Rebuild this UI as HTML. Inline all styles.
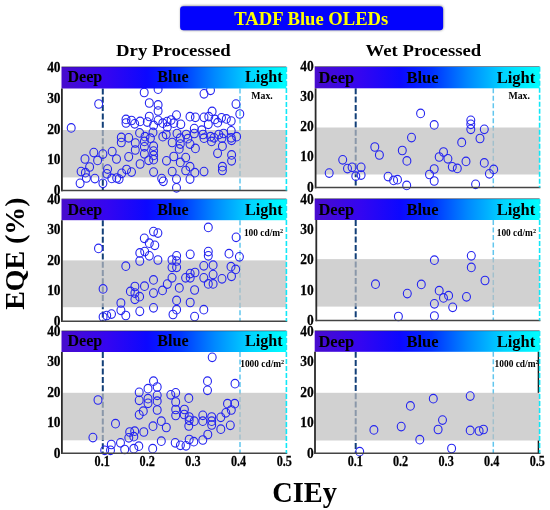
<!DOCTYPE html>
<html><head><meta charset="utf-8"><title>TADF Blue OLEDs</title>
<style>
html,body{margin:0;padding:0;background:#fff;}
body{width:550px;height:510px;overflow:hidden;font-family:"Liberation Serif",serif;}
svg{display:block}
text{font-family:"Liberation Serif",serif;font-weight:bold;fill:#000}
.hd{font-size:16px}
.tk{font-size:14.2px;stroke:#000;stroke-width:0.25px}
.sm{font-size:9.4px}
.c{fill:none;stroke:#2424f0;stroke-width:1.1}
</style></head><body>
<svg width="550" height="510" viewBox="0 0 550 510">
<defs>
<linearGradient id="g" x1="0" x2="1" y1="0" y2="0">
<stop offset="0" stop-color="#480ccd"/>
<stop offset="0.2" stop-color="#3505f0"/>
<stop offset="0.38" stop-color="#0c08ff"/>
<stop offset="0.52" stop-color="#0030ff"/>
<stop offset="0.68" stop-color="#0088ff"/>
<stop offset="0.84" stop-color="#00d4ff"/>
<stop offset="1" stop-color="#00ffff"/>
</linearGradient>
<filter id="sh" x="-5%" y="-30%" width="110%" height="160%"><feGaussianBlur stdDeviation="1"/></filter>
</defs>
<rect width="550" height="510" fill="#fff"/>
<rect x="180.5" y="5.6" width="263" height="25" rx="4" fill="#555" opacity="0.6" filter="url(#sh)"/>
<rect x="180.1" y="6.2" width="263" height="24" rx="3.3" fill="#0303fd"/>
<text x="311.3" y="24.8" text-anchor="middle" style="font-size:18.6px;fill:#ffff00">TADF Blue OLEDs</text>
<text transform="translate(173.4,55.6) scale(1,0.94)" text-anchor="middle" style="font-size:18.75px">Dry Processed</text>
<text transform="translate(423.4,55.6) scale(1,0.94)" text-anchor="middle" style="font-size:18.75px">Wet Processed</text>
<text transform="translate(23.6,253.7) rotate(-90)" text-anchor="middle" style="font-size:27.9px">EQE (%)</text>
<text x="304.5" y="501.8" text-anchor="middle" style="font-size:28.4px">CIEy</text>

<g>
<line x1="102.8" x2="102.8" y1="88.5" y2="190.6" stroke="#123f78" stroke-width="2" stroke-dasharray="6 2.3"/>
<line x1="240.0" x2="240.0" y1="88.5" y2="190.6" stroke="#62c6ee" stroke-width="1.5" stroke-dasharray="5 2.5"/>
<rect x="62.5" y="130" width="223.9" height="47.4" fill="#bdbdbd" fill-opacity="0.7"/>
<ellipse class="c" cx="71.2" cy="127.9" rx="3.95" ry="4.3"/>
<ellipse class="c" cx="98.7" cy="104" rx="3.95" ry="4.3"/>
<ellipse class="c" cx="80.1" cy="183.3" rx="3.95" ry="4.3"/>
<ellipse class="c" cx="81.1" cy="171.6" rx="3.95" ry="4.3"/>
<ellipse class="c" cx="85" cy="159" rx="3.95" ry="4.3"/>
<ellipse class="c" cx="85.4" cy="172.7" rx="3.95" ry="4.3"/>
<ellipse class="c" cx="86.4" cy="178" rx="3.95" ry="4.3"/>
<ellipse class="c" cx="89.6" cy="167" rx="3.95" ry="4.3"/>
<ellipse class="c" cx="93.8" cy="152.6" rx="3.95" ry="4.3"/>
<ellipse class="c" cx="94.9" cy="178.6" rx="3.95" ry="4.3"/>
<ellipse class="c" cx="97.6" cy="160.4" rx="3.95" ry="4.3"/>
<ellipse class="c" cx="102.9" cy="154.1" rx="3.95" ry="4.3"/>
<ellipse class="c" cx="102.9" cy="183.3" rx="3.95" ry="4.3"/>
<ellipse class="c" cx="107.6" cy="169.1" rx="3.95" ry="4.3"/>
<ellipse class="c" cx="106.9" cy="173.8" rx="3.95" ry="4.3"/>
<ellipse class="c" cx="112.2" cy="151.6" rx="3.95" ry="4.3"/>
<ellipse class="c" cx="111.8" cy="178.4" rx="3.95" ry="4.3"/>
<ellipse class="c" cx="116.5" cy="159" rx="3.95" ry="4.3"/>
<ellipse class="c" cx="116.7" cy="178" rx="3.95" ry="4.3"/>
<ellipse class="c" cx="121.3" cy="137.4" rx="3.95" ry="4.3"/>
<ellipse class="c" cx="121.3" cy="142.5" rx="3.95" ry="4.3"/>
<ellipse class="c" cx="121.7" cy="173.3" rx="3.95" ry="4.3"/>
<ellipse class="c" cx="126" cy="119.4" rx="3.95" ry="4.3"/>
<ellipse class="c" cx="126" cy="123" rx="3.95" ry="4.3"/>
<ellipse class="c" cx="126.6" cy="169.5" rx="3.95" ry="4.3"/>
<ellipse class="c" cx="128.7" cy="137.8" rx="3.95" ry="4.3"/>
<ellipse class="c" cx="128.7" cy="156.8" rx="3.95" ry="4.3"/>
<ellipse class="c" cx="144.2" cy="92.5" rx="3.95" ry="4.3"/>
<ellipse class="c" cx="158.1" cy="89.2" rx="3.95" ry="4.3"/>
<ellipse class="c" cx="149.3" cy="103" rx="3.95" ry="4.3"/>
<ellipse class="c" cx="158.1" cy="104.9" rx="3.95" ry="4.3"/>
<ellipse class="c" cx="158.1" cy="111" rx="3.95" ry="4.3"/>
<ellipse class="c" cx="149.3" cy="116.5" rx="3.95" ry="4.3"/>
<ellipse class="c" cx="131.5" cy="120.5" rx="3.95" ry="4.3"/>
<ellipse class="c" cx="134.7" cy="123.8" rx="3.95" ry="4.3"/>
<ellipse class="c" cx="140.1" cy="121.4" rx="3.95" ry="4.3"/>
<ellipse class="c" cx="147.3" cy="122.1" rx="3.95" ry="4.3"/>
<ellipse class="c" cx="158.1" cy="120.3" rx="3.95" ry="4.3"/>
<ellipse class="c" cx="162.8" cy="123.2" rx="3.95" ry="4.3"/>
<ellipse class="c" cx="153.6" cy="125.4" rx="3.95" ry="4.3"/>
<ellipse class="c" cx="139.6" cy="132.9" rx="3.95" ry="4.3"/>
<ellipse class="c" cx="145" cy="136.7" rx="3.95" ry="4.3"/>
<ellipse class="c" cx="153" cy="132.4" rx="3.95" ry="4.3"/>
<ellipse class="c" cx="162.8" cy="136.7" rx="3.95" ry="4.3"/>
<ellipse class="c" cx="167.1" cy="121.6" rx="3.95" ry="4.3"/>
<ellipse class="c" cx="204" cy="93.8" rx="3.95" ry="4.3"/>
<ellipse class="c" cx="210.5" cy="90.3" rx="3.95" ry="4.3"/>
<ellipse class="c" cx="176.5" cy="115.1" rx="3.95" ry="4.3"/>
<ellipse class="c" cx="190" cy="116.7" rx="3.95" ry="4.3"/>
<ellipse class="c" cx="195.4" cy="117.3" rx="3.95" ry="4.3"/>
<ellipse class="c" cx="204" cy="117.3" rx="3.95" ry="4.3"/>
<ellipse class="c" cx="208.8" cy="116.7" rx="3.95" ry="4.3"/>
<ellipse class="c" cx="212.1" cy="111.4" rx="3.95" ry="4.3"/>
<ellipse class="c" cx="180.8" cy="124.3" rx="3.95" ry="4.3"/>
<ellipse class="c" cx="171.1" cy="120" rx="3.95" ry="4.3"/>
<ellipse class="c" cx="167.3" cy="127" rx="3.95" ry="4.3"/>
<ellipse class="c" cx="173.8" cy="123.2" rx="3.95" ry="4.3"/>
<ellipse class="c" cx="194.3" cy="128.6" rx="3.95" ry="4.3"/>
<ellipse class="c" cx="201.8" cy="130.2" rx="3.95" ry="4.3"/>
<ellipse class="c" cx="208.3" cy="124.3" rx="3.95" ry="4.3"/>
<ellipse class="c" cx="166.2" cy="134.5" rx="3.95" ry="4.3"/>
<ellipse class="c" cx="177" cy="133.5" rx="3.95" ry="4.3"/>
<ellipse class="c" cx="186.2" cy="134.5" rx="3.95" ry="4.3"/>
<ellipse class="c" cx="194.3" cy="133.5" rx="3.95" ry="4.3"/>
<ellipse class="c" cx="203" cy="134.5" rx="3.95" ry="4.3"/>
<ellipse class="c" cx="210.5" cy="136.7" rx="3.95" ry="4.3"/>
<ellipse class="c" cx="236" cy="104.1" rx="3.95" ry="4.3"/>
<ellipse class="c" cx="239.8" cy="114" rx="3.95" ry="4.3"/>
<ellipse class="c" cx="215" cy="119.4" rx="3.95" ry="4.3"/>
<ellipse class="c" cx="221.5" cy="117.8" rx="3.95" ry="4.3"/>
<ellipse class="c" cx="226.3" cy="118.9" rx="3.95" ry="4.3"/>
<ellipse class="c" cx="231.2" cy="121.1" rx="3.95" ry="4.3"/>
<ellipse class="c" cx="217.7" cy="122.7" rx="3.95" ry="4.3"/>
<ellipse class="c" cx="231.2" cy="130.8" rx="3.95" ry="4.3"/>
<ellipse class="c" cx="218.8" cy="134.5" rx="3.95" ry="4.3"/>
<ellipse class="c" cx="223.6" cy="133.5" rx="3.95" ry="4.3"/>
<ellipse class="c" cx="231.2" cy="137.8" rx="3.95" ry="4.3"/>
<ellipse class="c" cx="236.6" cy="136.7" rx="3.95" ry="4.3"/>
<ellipse class="c" cx="214" cy="137.8" rx="3.95" ry="4.3"/>
<ellipse class="c" cx="135.3" cy="143" rx="3.95" ry="4.3"/>
<ellipse class="c" cx="135.3" cy="150" rx="3.95" ry="4.3"/>
<ellipse class="c" cx="140.1" cy="164" rx="3.95" ry="4.3"/>
<ellipse class="c" cx="144.4" cy="146.8" rx="3.95" ry="4.3"/>
<ellipse class="c" cx="144.4" cy="153.8" rx="3.95" ry="4.3"/>
<ellipse class="c" cx="148.7" cy="160.3" rx="3.95" ry="4.3"/>
<ellipse class="c" cx="153.6" cy="146.2" rx="3.95" ry="4.3"/>
<ellipse class="c" cx="153.6" cy="151.1" rx="3.95" ry="4.3"/>
<ellipse class="c" cx="153.6" cy="155.4" rx="3.95" ry="4.3"/>
<ellipse class="c" cx="153.6" cy="159.7" rx="3.95" ry="4.3"/>
<ellipse class="c" cx="131.5" cy="172.1" rx="3.95" ry="4.3"/>
<ellipse class="c" cx="119.1" cy="179.1" rx="3.95" ry="4.3"/>
<ellipse class="c" cx="153.6" cy="172.1" rx="3.95" ry="4.3"/>
<ellipse class="c" cx="161.7" cy="178.6" rx="3.95" ry="4.3"/>
<ellipse class="c" cx="163.3" cy="181.3" rx="3.95" ry="4.3"/>
<ellipse class="c" cx="166.5" cy="160.8" rx="3.95" ry="4.3"/>
<ellipse class="c" cx="150.4" cy="138.2" rx="3.95" ry="4.3"/>
<ellipse class="c" cx="144.4" cy="141.4" rx="3.95" ry="4.3"/>
<ellipse class="c" cx="173.8" cy="156.5" rx="3.95" ry="4.3"/>
<ellipse class="c" cx="172.2" cy="142.5" rx="3.95" ry="4.3"/>
<ellipse class="c" cx="179.2" cy="148.9" rx="3.95" ry="4.3"/>
<ellipse class="c" cx="180.3" cy="144.1" rx="3.95" ry="4.3"/>
<ellipse class="c" cx="190" cy="144.1" rx="3.95" ry="4.3"/>
<ellipse class="c" cx="195.4" cy="148.4" rx="3.95" ry="4.3"/>
<ellipse class="c" cx="185.7" cy="157.6" rx="3.95" ry="4.3"/>
<ellipse class="c" cx="180.3" cy="162.4" rx="3.95" ry="4.3"/>
<ellipse class="c" cx="190" cy="166.7" rx="3.95" ry="4.3"/>
<ellipse class="c" cx="185.7" cy="170.5" rx="3.95" ry="4.3"/>
<ellipse class="c" cx="194.8" cy="172.7" rx="3.95" ry="4.3"/>
<ellipse class="c" cx="204" cy="171.6" rx="3.95" ry="4.3"/>
<ellipse class="c" cx="172.2" cy="171.6" rx="3.95" ry="4.3"/>
<ellipse class="c" cx="176.5" cy="179.1" rx="3.95" ry="4.3"/>
<ellipse class="c" cx="190" cy="179.1" rx="3.95" ry="4.3"/>
<ellipse class="c" cx="176.5" cy="187.8" rx="3.95" ry="4.3"/>
<ellipse class="c" cx="204" cy="138.2" rx="3.95" ry="4.3"/>
<ellipse class="c" cx="211.5" cy="141.4" rx="3.95" ry="4.3"/>
<ellipse class="c" cx="187.8" cy="138.7" rx="3.95" ry="4.3"/>
<ellipse class="c" cx="180.3" cy="138.2" rx="3.95" ry="4.3"/>
<ellipse class="c" cx="222.4" cy="146.2" rx="3.95" ry="4.3"/>
<ellipse class="c" cx="217.6" cy="153.3" rx="3.95" ry="4.3"/>
<ellipse class="c" cx="231.6" cy="140.3" rx="3.95" ry="4.3"/>
<ellipse class="c" cx="231.6" cy="154.9" rx="3.95" ry="4.3"/>
<ellipse class="c" cx="231.6" cy="160.8" rx="3.95" ry="4.3"/>
<ellipse class="c" cx="222.4" cy="166.7" rx="3.95" ry="4.3"/>
<ellipse class="c" cx="222.4" cy="170.5" rx="3.95" ry="4.3"/>
<ellipse class="c" cx="221.9" cy="138.2" rx="3.95" ry="4.3"/>
<rect x="61.5" y="67" width="224.9" height="21.5" fill="url(#g)"/>
<line x1="61.5" x2="286.4" y1="66.8" y2="66.8" stroke="#223" stroke-width="0.8" opacity="0.7"/>
<line x1="61.9" x2="61.9" y1="88.5" y2="191.29999999999998" stroke="#2a2a2a" stroke-width="1.8"/>
<line x1="61.199999999999996" x2="287.2" y1="190.6" y2="190.6" stroke="#444" stroke-width="1.5"/>
<line x1="286.4" x2="286.4" y1="67" y2="190.6" stroke="#10e8f8" stroke-width="1.6" stroke-dasharray="5 2"/>
<text class="hd" style="font-size:16.1px" x="67.4" y="82.4">Deep</text>
<text class="hd" style="font-size:16.1px" x="157.3" y="82.4">Blue</text>
<text class="hd" style="font-size:16.1px" x="245.0" y="82.4">Light</text>
<text class="sm" style="font-size:9.8px" x="262" y="98.9" text-anchor="middle">Max.</text>
<text class="tk" transform="translate(60.6,71.7) scale(0.95,1)" text-anchor="end">40</text>
<text class="tk" transform="translate(60.6,102.6) scale(0.95,1)" text-anchor="end">30</text>
<text class="tk" transform="translate(60.6,133.5) scale(0.95,1)" text-anchor="end">20</text>
<text class="tk" transform="translate(60.6,164.4) scale(0.95,1)" text-anchor="end">10</text>
<text class="tk" transform="translate(60.6,195.3) scale(0.95,1)" text-anchor="end">0</text>
</g>
<g>
<line x1="102.8" x2="102.8" y1="220.2" y2="321.2" stroke="#123f78" stroke-width="2" stroke-dasharray="6 2.3"/>
<line x1="240.0" x2="240.0" y1="220.2" y2="321.2" stroke="#62c6ee" stroke-width="1.5" stroke-dasharray="5 2.5"/>
<rect x="62.5" y="260.4" width="223.9" height="46.8" fill="#bdbdbd" fill-opacity="0.7"/>
<ellipse class="c" cx="98.5" cy="248.4" rx="3.95" ry="4.3"/>
<ellipse class="c" cx="103.1" cy="288.9" rx="3.95" ry="4.3"/>
<ellipse class="c" cx="103.1" cy="317" rx="3.95" ry="4.3"/>
<ellipse class="c" cx="106.7" cy="315.5" rx="3.95" ry="4.3"/>
<ellipse class="c" cx="111.5" cy="314.1" rx="3.95" ry="4.3"/>
<ellipse class="c" cx="120.9" cy="303" rx="3.95" ry="4.3"/>
<ellipse class="c" cx="120.9" cy="310.3" rx="3.95" ry="4.3"/>
<ellipse class="c" cx="125.8" cy="315.5" rx="3.95" ry="4.3"/>
<ellipse class="c" cx="125.8" cy="266.2" rx="3.95" ry="4.3"/>
<ellipse class="c" cx="130.4" cy="291.4" rx="3.95" ry="4.3"/>
<ellipse class="c" cx="134.9" cy="286.5" rx="3.95" ry="4.3"/>
<ellipse class="c" cx="134.9" cy="293.1" rx="3.95" ry="4.3"/>
<ellipse class="c" cx="134.9" cy="299.3" rx="3.95" ry="4.3"/>
<ellipse class="c" cx="139.6" cy="296.7" rx="3.95" ry="4.3"/>
<ellipse class="c" cx="139.8" cy="311.3" rx="3.95" ry="4.3"/>
<ellipse class="c" cx="139.8" cy="261" rx="3.95" ry="4.3"/>
<ellipse class="c" cx="139.8" cy="252.9" rx="3.95" ry="4.3"/>
<ellipse class="c" cx="144.3" cy="238.3" rx="3.95" ry="4.3"/>
<ellipse class="c" cx="144.5" cy="286.2" rx="3.95" ry="4.3"/>
<ellipse class="c" cx="144.7" cy="251.6" rx="3.95" ry="4.3"/>
<ellipse class="c" cx="149.3" cy="255.8" rx="3.95" ry="4.3"/>
<ellipse class="c" cx="149.3" cy="243.2" rx="3.95" ry="4.3"/>
<ellipse class="c" cx="153.5" cy="231.6" rx="3.95" ry="4.3"/>
<ellipse class="c" cx="157.9" cy="233.1" rx="3.95" ry="4.3"/>
<ellipse class="c" cx="154.8" cy="245.3" rx="3.95" ry="4.3"/>
<ellipse class="c" cx="157.9" cy="260" rx="3.95" ry="4.3"/>
<ellipse class="c" cx="153.5" cy="279.9" rx="3.95" ry="4.3"/>
<ellipse class="c" cx="153.5" cy="293.1" rx="3.95" ry="4.3"/>
<ellipse class="c" cx="153.5" cy="307.8" rx="3.95" ry="4.3"/>
<ellipse class="c" cx="162.5" cy="290.4" rx="3.95" ry="4.3"/>
<ellipse class="c" cx="167.3" cy="284.1" rx="3.95" ry="4.3"/>
<ellipse class="c" cx="172" cy="277.8" rx="3.95" ry="4.3"/>
<ellipse class="c" cx="172" cy="267.3" rx="3.95" ry="4.3"/>
<ellipse class="c" cx="172" cy="260" rx="3.95" ry="4.3"/>
<ellipse class="c" cx="176.6" cy="255.8" rx="3.95" ry="4.3"/>
<ellipse class="c" cx="176.6" cy="261" rx="3.95" ry="4.3"/>
<ellipse class="c" cx="176.6" cy="267.3" rx="3.95" ry="4.3"/>
<ellipse class="c" cx="179.3" cy="287.9" rx="3.95" ry="4.3"/>
<ellipse class="c" cx="176.6" cy="300.4" rx="3.95" ry="4.3"/>
<ellipse class="c" cx="176.6" cy="309.7" rx="3.95" ry="4.3"/>
<ellipse class="c" cx="173" cy="314.5" rx="3.95" ry="4.3"/>
<ellipse class="c" cx="185.6" cy="277.8" rx="3.95" ry="4.3"/>
<ellipse class="c" cx="190.2" cy="254.3" rx="3.95" ry="4.3"/>
<ellipse class="c" cx="190.2" cy="273.6" rx="3.95" ry="4.3"/>
<ellipse class="c" cx="190.2" cy="277.8" rx="3.95" ry="4.3"/>
<ellipse class="c" cx="195" cy="272.5" rx="3.95" ry="4.3"/>
<ellipse class="c" cx="194.6" cy="290" rx="3.95" ry="4.3"/>
<ellipse class="c" cx="190.2" cy="302.5" rx="3.95" ry="4.3"/>
<ellipse class="c" cx="194.6" cy="316.6" rx="3.95" ry="4.3"/>
<ellipse class="c" cx="203.8" cy="309.7" rx="3.95" ry="4.3"/>
<ellipse class="c" cx="203.8" cy="265.8" rx="3.95" ry="4.3"/>
<ellipse class="c" cx="203.8" cy="277.8" rx="3.95" ry="4.3"/>
<ellipse class="c" cx="208.3" cy="227.4" rx="3.95" ry="4.3"/>
<ellipse class="c" cx="208.3" cy="251.6" rx="3.95" ry="4.3"/>
<ellipse class="c" cx="208.3" cy="255.8" rx="3.95" ry="4.3"/>
<ellipse class="c" cx="208.3" cy="283.9" rx="3.95" ry="4.3"/>
<ellipse class="c" cx="213.1" cy="265.2" rx="3.95" ry="4.3"/>
<ellipse class="c" cx="213.1" cy="274.6" rx="3.95" ry="4.3"/>
<ellipse class="c" cx="213.1" cy="283.9" rx="3.95" ry="4.3"/>
<ellipse class="c" cx="222" cy="278.8" rx="3.95" ry="4.3"/>
<ellipse class="c" cx="229" cy="253.7" rx="3.95" ry="4.3"/>
<ellipse class="c" cx="231" cy="266.7" rx="3.95" ry="4.3"/>
<ellipse class="c" cx="231.5" cy="276.3" rx="3.95" ry="4.3"/>
<ellipse class="c" cx="235.7" cy="269.4" rx="3.95" ry="4.3"/>
<ellipse class="c" cx="236.1" cy="237.3" rx="3.95" ry="4.3"/>
<ellipse class="c" cx="239.4" cy="256.8" rx="3.95" ry="4.3"/>
<rect x="61.5" y="199.1" width="224.9" height="21.1" fill="url(#g)"/>
<line x1="61.5" x2="286.4" y1="198.9" y2="198.9" stroke="#223" stroke-width="0.8" opacity="0.7"/>
<line x1="61.9" x2="61.9" y1="220.2" y2="321.9" stroke="#2a2a2a" stroke-width="1.8"/>
<line x1="61.199999999999996" x2="287.2" y1="321.2" y2="321.2" stroke="#444" stroke-width="1.5"/>
<line x1="286.4" x2="286.4" y1="199.1" y2="321.2" stroke="#10e8f8" stroke-width="1.6" stroke-dasharray="5 2"/>
<text class="hd" style="font-size:16.1px" x="67.4" y="214.5">Deep</text>
<text class="hd" style="font-size:16.1px" x="157.3" y="214.5">Blue</text>
<text class="hd" style="font-size:16.1px" x="245.0" y="214.5">Light</text>
<text class="sm" x="283.2" y="236.1" text-anchor="end">100 cd/m<tspan dy="-3.4" style="font-size:6.2px">2</tspan></text>
<text class="tk" transform="translate(60.6,203.8) scale(0.95,1)" text-anchor="end">40</text>
<text class="tk" transform="translate(60.6,234.3) scale(0.95,1)" text-anchor="end">30</text>
<text class="tk" transform="translate(60.6,264.8) scale(0.95,1)" text-anchor="end">20</text>
<text class="tk" transform="translate(60.6,295.4) scale(0.95,1)" text-anchor="end">10</text>
<text class="tk" transform="translate(60.6,325.9) scale(0.95,1)" text-anchor="end">0</text>
</g>
<g>
<line x1="102.8" x2="102.8" y1="352" y2="453.2" stroke="#123f78" stroke-width="2" stroke-dasharray="6 2.3"/>
<line x1="240.0" x2="240.0" y1="352" y2="453.2" stroke="#62c6ee" stroke-width="1.5" stroke-dasharray="5 2.5"/>
<rect x="62.5" y="392.8" width="223.9" height="47.5" fill="#bdbdbd" fill-opacity="0.7"/>
<ellipse class="c" cx="212.2" cy="357.3" rx="3.95" ry="4.3"/>
<ellipse class="c" cx="98" cy="400" rx="3.95" ry="4.3"/>
<ellipse class="c" cx="92.9" cy="437.6" rx="3.95" ry="4.3"/>
<ellipse class="c" cx="115.5" cy="423.7" rx="3.95" ry="4.3"/>
<ellipse class="c" cx="139.2" cy="392.3" rx="3.95" ry="4.3"/>
<ellipse class="c" cx="139.2" cy="400.3" rx="3.95" ry="4.3"/>
<ellipse class="c" cx="139.2" cy="414.8" rx="3.95" ry="4.3"/>
<ellipse class="c" cx="143.3" cy="411.2" rx="3.95" ry="4.3"/>
<ellipse class="c" cx="148" cy="388.7" rx="3.95" ry="4.3"/>
<ellipse class="c" cx="148" cy="398.7" rx="3.95" ry="4.3"/>
<ellipse class="c" cx="148" cy="403.3" rx="3.95" ry="4.3"/>
<ellipse class="c" cx="153.5" cy="381.2" rx="3.95" ry="4.3"/>
<ellipse class="c" cx="157.2" cy="387" rx="3.95" ry="4.3"/>
<ellipse class="c" cx="157.2" cy="395.3" rx="3.95" ry="4.3"/>
<ellipse class="c" cx="157.2" cy="401.2" rx="3.95" ry="4.3"/>
<ellipse class="c" cx="157.2" cy="410" rx="3.95" ry="4.3"/>
<ellipse class="c" cx="153" cy="426.2" rx="3.95" ry="4.3"/>
<ellipse class="c" cx="161.3" cy="421.2" rx="3.95" ry="4.3"/>
<ellipse class="c" cx="166.3" cy="427.5" rx="3.95" ry="4.3"/>
<ellipse class="c" cx="143.8" cy="432" rx="3.95" ry="4.3"/>
<ellipse class="c" cx="129.7" cy="432" rx="3.95" ry="4.3"/>
<ellipse class="c" cx="134.7" cy="431.2" rx="3.95" ry="4.3"/>
<ellipse class="c" cx="128.8" cy="437.8" rx="3.95" ry="4.3"/>
<ellipse class="c" cx="133.8" cy="436.7" rx="3.95" ry="4.3"/>
<ellipse class="c" cx="161.3" cy="441.2" rx="3.95" ry="4.3"/>
<ellipse class="c" cx="152.7" cy="448.7" rx="3.95" ry="4.3"/>
<ellipse class="c" cx="138.8" cy="446.2" rx="3.95" ry="4.3"/>
<ellipse class="c" cx="133.8" cy="448.7" rx="3.95" ry="4.3"/>
<ellipse class="c" cx="124.7" cy="449.5" rx="3.95" ry="4.3"/>
<ellipse class="c" cx="120.5" cy="442.8" rx="3.95" ry="4.3"/>
<ellipse class="c" cx="111.3" cy="444.5" rx="3.95" ry="4.3"/>
<ellipse class="c" cx="110.5" cy="450.3" rx="3.95" ry="4.3"/>
<ellipse class="c" cx="104.7" cy="450.3" rx="3.95" ry="4.3"/>
<ellipse class="c" cx="170.8" cy="394.8" rx="3.95" ry="4.3"/>
<ellipse class="c" cx="175.7" cy="392.8" rx="3.95" ry="4.3"/>
<ellipse class="c" cx="175.7" cy="402" rx="3.95" ry="4.3"/>
<ellipse class="c" cx="175.7" cy="409.5" rx="3.95" ry="4.3"/>
<ellipse class="c" cx="175.7" cy="415.5" rx="3.95" ry="4.3"/>
<ellipse class="c" cx="184.4" cy="409.5" rx="3.95" ry="4.3"/>
<ellipse class="c" cx="184.2" cy="414.5" rx="3.95" ry="4.3"/>
<ellipse class="c" cx="188.8" cy="398.2" rx="3.95" ry="4.3"/>
<ellipse class="c" cx="189.2" cy="417" rx="3.95" ry="4.3"/>
<ellipse class="c" cx="189.2" cy="420.3" rx="3.95" ry="4.3"/>
<ellipse class="c" cx="188.8" cy="426" rx="3.95" ry="4.3"/>
<ellipse class="c" cx="194.2" cy="421.2" rx="3.95" ry="4.3"/>
<ellipse class="c" cx="202.8" cy="415.3" rx="3.95" ry="4.3"/>
<ellipse class="c" cx="202.8" cy="421.2" rx="3.95" ry="4.3"/>
<ellipse class="c" cx="207.5" cy="381.2" rx="3.95" ry="4.3"/>
<ellipse class="c" cx="207.5" cy="390.3" rx="3.95" ry="4.3"/>
<ellipse class="c" cx="211.7" cy="417" rx="3.95" ry="4.3"/>
<ellipse class="c" cx="211.7" cy="421.2" rx="3.95" ry="4.3"/>
<ellipse class="c" cx="211.7" cy="425" rx="3.95" ry="4.3"/>
<ellipse class="c" cx="207.8" cy="434.5" rx="3.95" ry="4.3"/>
<ellipse class="c" cx="202.8" cy="440" rx="3.95" ry="4.3"/>
<ellipse class="c" cx="220.8" cy="417.3" rx="3.95" ry="4.3"/>
<ellipse class="c" cx="220.8" cy="429.2" rx="3.95" ry="4.3"/>
<ellipse class="c" cx="225.8" cy="412.8" rx="3.95" ry="4.3"/>
<ellipse class="c" cx="227.5" cy="403.7" rx="3.95" ry="4.3"/>
<ellipse class="c" cx="230.3" cy="425.3" rx="3.95" ry="4.3"/>
<ellipse class="c" cx="231.3" cy="410" rx="3.95" ry="4.3"/>
<ellipse class="c" cx="234.7" cy="403.7" rx="3.95" ry="4.3"/>
<ellipse class="c" cx="235" cy="383.7" rx="3.95" ry="4.3"/>
<ellipse class="c" cx="175.2" cy="442.8" rx="3.95" ry="4.3"/>
<ellipse class="c" cx="180.4" cy="445.3" rx="3.95" ry="4.3"/>
<ellipse class="c" cx="186" cy="445.8" rx="3.95" ry="4.3"/>
<ellipse class="c" cx="189.2" cy="439.5" rx="3.95" ry="4.3"/>
<ellipse class="c" cx="193.8" cy="441.7" rx="3.95" ry="4.3"/>
<rect x="61.5" y="331" width="224.9" height="21.0" fill="url(#g)"/>
<line x1="61.5" x2="286.4" y1="330.8" y2="330.8" stroke="#223" stroke-width="0.8" opacity="0.7"/>
<line x1="61.9" x2="61.9" y1="352" y2="453.9" stroke="#2a2a2a" stroke-width="1.8"/>
<line x1="61.199999999999996" x2="287.2" y1="453.2" y2="453.2" stroke="#444" stroke-width="1.5"/>
<line x1="286.4" x2="286.4" y1="331" y2="453.2" stroke="#10e8f8" stroke-width="1.6" stroke-dasharray="5 2"/>
<text class="hd" style="font-size:16.1px" x="67.4" y="346.4">Deep</text>
<text class="hd" style="font-size:16.1px" x="157.3" y="346.4">Blue</text>
<text class="hd" style="font-size:16.1px" x="245.0" y="346.4">Light</text>
<text class="sm" x="284.2" y="367.2" text-anchor="end">1000 cd/m<tspan dy="-3.4" style="font-size:6.2px">2</tspan></text>
<text class="tk" transform="translate(60.6,335.7) scale(0.95,1)" text-anchor="end">40</text>
<text class="tk" transform="translate(60.6,366.2) scale(0.95,1)" text-anchor="end">30</text>
<text class="tk" transform="translate(60.6,396.8) scale(0.95,1)" text-anchor="end">20</text>
<text class="tk" transform="translate(60.6,427.3) scale(0.95,1)" text-anchor="end">10</text>
<text class="tk" transform="translate(60.6,457.9) scale(0.95,1)" text-anchor="end">0</text>
</g>
<text class="tk" transform="translate(102.2,466.2) scale(0.86,1)" text-anchor="middle">0.1</text>
<text class="tk" transform="translate(147.2,466.2) scale(0.86,1)" text-anchor="middle">0.2</text>
<text class="tk" transform="translate(192.9,466.2) scale(0.86,1)" text-anchor="middle">0.3</text>
<text class="tk" transform="translate(238.5,466.2) scale(0.86,1)" text-anchor="middle">0.4</text>
<text class="tk" transform="translate(284.3,466.2) scale(0.86,1)" text-anchor="middle">0.5</text>
<g>
<line x1="355.7" x2="355.7" y1="88.3" y2="187.6" stroke="#123f78" stroke-width="2" stroke-dasharray="6 2.3"/>
<line x1="493.3" x2="493.3" y1="88.3" y2="187.6" stroke="#62c6ee" stroke-width="1.5" stroke-dasharray="5 2.5"/>
<rect x="315.7" y="127.5" width="223.9" height="47.0" fill="#bdbdbd" fill-opacity="0.7"/>
<ellipse class="c" cx="329.2" cy="173.1" rx="3.95" ry="4.3"/>
<ellipse class="c" cx="342.7" cy="159.8" rx="3.95" ry="4.3"/>
<ellipse class="c" cx="347.5" cy="168.6" rx="3.95" ry="4.3"/>
<ellipse class="c" cx="352.1" cy="167.3" rx="3.95" ry="4.3"/>
<ellipse class="c" cx="355.8" cy="176.2" rx="3.95" ry="4.3"/>
<ellipse class="c" cx="361.1" cy="167.3" rx="3.95" ry="4.3"/>
<ellipse class="c" cx="361.1" cy="175.1" rx="3.95" ry="4.3"/>
<ellipse class="c" cx="374.8" cy="147" rx="3.95" ry="4.3"/>
<ellipse class="c" cx="379.4" cy="155" rx="3.95" ry="4.3"/>
<ellipse class="c" cx="388.1" cy="176.6" rx="3.95" ry="4.3"/>
<ellipse class="c" cx="393.6" cy="180.4" rx="3.95" ry="4.3"/>
<ellipse class="c" cx="397.5" cy="179.7" rx="3.95" ry="4.3"/>
<ellipse class="c" cx="406.7" cy="185.4" rx="3.95" ry="4.3"/>
<ellipse class="c" cx="402.3" cy="150.5" rx="3.95" ry="4.3"/>
<ellipse class="c" cx="406.9" cy="160.9" rx="3.95" ry="4.3"/>
<ellipse class="c" cx="411.5" cy="137.6" rx="3.95" ry="4.3"/>
<ellipse class="c" cx="420.6" cy="113.4" rx="3.95" ry="4.3"/>
<ellipse class="c" cx="429.5" cy="174.5" rx="3.95" ry="4.3"/>
<ellipse class="c" cx="434.2" cy="124.9" rx="3.95" ry="4.3"/>
<ellipse class="c" cx="434.2" cy="169" rx="3.95" ry="4.3"/>
<ellipse class="c" cx="434.2" cy="181" rx="3.95" ry="4.3"/>
<ellipse class="c" cx="439.2" cy="157" rx="3.95" ry="4.3"/>
<ellipse class="c" cx="443.5" cy="152" rx="3.95" ry="4.3"/>
<ellipse class="c" cx="447.9" cy="158.8" rx="3.95" ry="4.3"/>
<ellipse class="c" cx="452.3" cy="166.8" rx="3.95" ry="4.3"/>
<ellipse class="c" cx="457.3" cy="168.4" rx="3.95" ry="4.3"/>
<ellipse class="c" cx="461.7" cy="142.4" rx="3.95" ry="4.3"/>
<ellipse class="c" cx="466" cy="161.4" rx="3.95" ry="4.3"/>
<ellipse class="c" cx="470.8" cy="120.3" rx="3.95" ry="4.3"/>
<ellipse class="c" cx="470.8" cy="124.3" rx="3.95" ry="4.3"/>
<ellipse class="c" cx="470.8" cy="129.3" rx="3.95" ry="4.3"/>
<ellipse class="c" cx="475.6" cy="184.3" rx="3.95" ry="4.3"/>
<ellipse class="c" cx="480" cy="138.5" rx="3.95" ry="4.3"/>
<ellipse class="c" cx="484.3" cy="129.3" rx="3.95" ry="4.3"/>
<ellipse class="c" cx="484.3" cy="162.9" rx="3.95" ry="4.3"/>
<ellipse class="c" cx="489.4" cy="173.8" rx="3.95" ry="4.3"/>
<ellipse class="c" cx="493.7" cy="169.4" rx="3.95" ry="4.3"/>
<rect x="314.7" y="66.8" width="224.9" height="21.5" fill="url(#g)"/>
<line x1="314.7" x2="539.6" y1="66.6" y2="66.6" stroke="#223" stroke-width="0.8" opacity="0.7"/>
<line x1="315.6" x2="315.6" y1="88.3" y2="188.29999999999998" stroke="#2a2a2a" stroke-width="1.8"/>
<line x1="314.90000000000003" x2="540.4" y1="187.6" y2="187.6" stroke="#444" stroke-width="1.5"/>
<line x1="539.6" x2="539.6" y1="66.8" y2="187.6" stroke="#10e8f8" stroke-width="1.6" stroke-dasharray="5 2"/>
<text class="hd" style="font-size:16.5px" x="318.4" y="82.9">Deep</text>
<text class="hd" style="font-size:16.5px" x="406.4" y="82.9">Blue</text>
<text class="hd" style="font-size:16.5px" x="496.7" y="82.9">Light</text>
<text class="sm" style="font-size:9.8px" x="519.2" y="98.7" text-anchor="middle">Max.</text>
<text class="tk" transform="translate(313.8,70.7) scale(0.95,1)" text-anchor="end">40</text>
<text class="tk" transform="translate(313.8,100.9) scale(0.95,1)" text-anchor="end">30</text>
<text class="tk" transform="translate(313.8,131.1) scale(0.95,1)" text-anchor="end">20</text>
<text class="tk" transform="translate(313.8,161.3) scale(0.95,1)" text-anchor="end">10</text>
<text class="tk" transform="translate(313.8,191.5) scale(0.95,1)" text-anchor="end">0</text>
</g>
<g>
<line x1="355.7" x2="355.7" y1="220" y2="320.5" stroke="#123f78" stroke-width="2" stroke-dasharray="6 2.3"/>
<line x1="493.3" x2="493.3" y1="220" y2="320.5" stroke="#62c6ee" stroke-width="1.5" stroke-dasharray="5 2.5"/>
<rect x="315.7" y="259.1" width="223.9" height="47.5" fill="#bdbdbd" fill-opacity="0.7"/>
<ellipse class="c" cx="375.5" cy="284.2" rx="3.95" ry="4.3"/>
<ellipse class="c" cx="398.4" cy="316.5" rx="3.95" ry="4.3"/>
<ellipse class="c" cx="407.3" cy="293.6" rx="3.95" ry="4.3"/>
<ellipse class="c" cx="421.3" cy="284.4" rx="3.95" ry="4.3"/>
<ellipse class="c" cx="434.4" cy="260.2" rx="3.95" ry="4.3"/>
<ellipse class="c" cx="434.4" cy="303.8" rx="3.95" ry="4.3"/>
<ellipse class="c" cx="434.4" cy="316" rx="3.95" ry="4.3"/>
<ellipse class="c" cx="439.2" cy="290.7" rx="3.95" ry="4.3"/>
<ellipse class="c" cx="443.5" cy="297.9" rx="3.95" ry="4.3"/>
<ellipse class="c" cx="448.6" cy="295.7" rx="3.95" ry="4.3"/>
<ellipse class="c" cx="452.7" cy="307.3" rx="3.95" ry="4.3"/>
<ellipse class="c" cx="466.5" cy="296.8" rx="3.95" ry="4.3"/>
<ellipse class="c" cx="471.3" cy="255.8" rx="3.95" ry="4.3"/>
<ellipse class="c" cx="471.3" cy="267.4" rx="3.95" ry="4.3"/>
<ellipse class="c" cx="485" cy="280.5" rx="3.95" ry="4.3"/>
<rect x="314.7" y="198.9" width="224.9" height="21.1" fill="url(#g)"/>
<line x1="314.7" x2="539.6" y1="198.70000000000002" y2="198.70000000000002" stroke="#223" stroke-width="0.8" opacity="0.7"/>
<line x1="316.3" x2="316.3" y1="220" y2="321.2" stroke="#2a2a2a" stroke-width="1.8"/>
<line x1="315.6" x2="540.4" y1="320.5" y2="320.5" stroke="#444" stroke-width="1.5"/>
<line x1="539.6" x2="539.6" y1="198.9" y2="320.5" stroke="#10e8f8" stroke-width="1.6" stroke-dasharray="5 2"/>
<text class="hd" style="font-size:16.5px" x="318.4" y="215.0">Deep</text>
<text class="hd" style="font-size:16.5px" x="406.4" y="215.0">Blue</text>
<text class="hd" style="font-size:16.5px" x="496.7" y="215.0">Light</text>
<text class="sm" x="536.0" y="236.1" text-anchor="end">100 cd/m<tspan dy="-3.4" style="font-size:6.2px">2</tspan></text>
<text class="tk" transform="translate(313.8,203.6) scale(0.95,1)" text-anchor="end">40</text>
<text class="tk" transform="translate(313.8,234.0) scale(0.95,1)" text-anchor="end">30</text>
<text class="tk" transform="translate(313.8,264.4) scale(0.95,1)" text-anchor="end">20</text>
<text class="tk" transform="translate(313.8,294.8) scale(0.95,1)" text-anchor="end">10</text>
<text class="tk" transform="translate(313.8,325.2) scale(0.95,1)" text-anchor="end">0</text>
</g>
<g>
<line x1="355.7" x2="355.7" y1="351.8" y2="453.2" stroke="#123f78" stroke-width="2" stroke-dasharray="6 2.3"/>
<line x1="493.3" x2="493.3" y1="351.8" y2="453.2" stroke="#62c6ee" stroke-width="1.5" stroke-dasharray="5 2.5"/>
<rect x="315.7" y="392.8" width="223.9" height="47.7" fill="#bdbdbd" fill-opacity="0.7"/>
<ellipse class="c" cx="359.7" cy="451.7" rx="3.95" ry="4.3"/>
<ellipse class="c" cx="373.9" cy="429.9" rx="3.95" ry="4.3"/>
<ellipse class="c" cx="401.2" cy="426.6" rx="3.95" ry="4.3"/>
<ellipse class="c" cx="410.4" cy="405.9" rx="3.95" ry="4.3"/>
<ellipse class="c" cx="419.8" cy="439.7" rx="3.95" ry="4.3"/>
<ellipse class="c" cx="433.3" cy="398.7" rx="3.95" ry="4.3"/>
<ellipse class="c" cx="438.1" cy="429.5" rx="3.95" ry="4.3"/>
<ellipse class="c" cx="442.5" cy="420.1" rx="3.95" ry="4.3"/>
<ellipse class="c" cx="451.6" cy="448.5" rx="3.95" ry="4.3"/>
<ellipse class="c" cx="470.2" cy="396.1" rx="3.95" ry="4.3"/>
<ellipse class="c" cx="470.2" cy="430.4" rx="3.95" ry="4.3"/>
<ellipse class="c" cx="479.1" cy="431" rx="3.95" ry="4.3"/>
<ellipse class="c" cx="483.5" cy="429.5" rx="3.95" ry="4.3"/>
<rect x="314.7" y="330.9" width="224.9" height="20.9" fill="url(#g)"/>
<line x1="314.7" x2="539.6" y1="330.7" y2="330.7" stroke="#223" stroke-width="0.8" opacity="0.7"/>
<line x1="315.0" x2="315.0" y1="351.8" y2="453.9" stroke="#2a2a2a" stroke-width="1.8"/>
<line x1="314.3" x2="540.4" y1="453.2" y2="453.2" stroke="#444" stroke-width="1.5"/>
<line x1="538.4" x2="538.4" y1="351.8" y2="392.8" stroke="#111" stroke-width="1.4"/><line x1="538.4" x2="538.4" y1="440.5" y2="453.2" stroke="#111" stroke-width="1.4"/>
<line x1="539.6" x2="539.6" y1="330.9" y2="453.2" stroke="#10e8f8" stroke-width="1.6" stroke-dasharray="5 2"/>
<text class="hd" style="font-size:16.5px" x="318.4" y="347.0">Deep</text>
<text class="hd" style="font-size:16.5px" x="406.4" y="347.0">Blue</text>
<text class="hd" style="font-size:16.5px" x="496.7" y="347.0">Light</text>
<text class="sm" x="538.6" y="367.2" text-anchor="end">1000 cd/m<tspan dy="-3.4" style="font-size:6.2px">2</tspan></text>
<text class="tk" transform="translate(313.8,335.6) scale(0.95,1)" text-anchor="end">40</text>
<text class="tk" transform="translate(313.8,366.2) scale(0.95,1)" text-anchor="end">30</text>
<text class="tk" transform="translate(313.8,396.7) scale(0.95,1)" text-anchor="end">20</text>
<text class="tk" transform="translate(313.8,427.3) scale(0.95,1)" text-anchor="end">10</text>
<text class="tk" transform="translate(313.8,457.9) scale(0.95,1)" text-anchor="end">0</text>
</g>
<text class="tk" transform="translate(355.3,466.2) scale(0.86,1)" text-anchor="middle">0.1</text>
<text class="tk" transform="translate(400.5,466.2) scale(0.86,1)" text-anchor="middle">0.2</text>
<text class="tk" transform="translate(446.1,466.2) scale(0.86,1)" text-anchor="middle">0.3</text>
<text class="tk" transform="translate(491.7,466.2) scale(0.86,1)" text-anchor="middle">0.4</text>
<text class="tk" transform="translate(537.3,466.2) scale(0.86,1)" text-anchor="middle">0.5</text>
</svg></body></html>
